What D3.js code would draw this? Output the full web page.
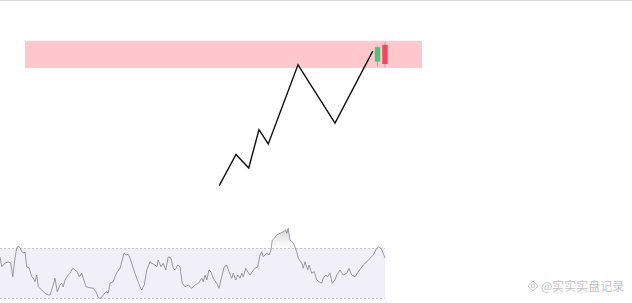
<!DOCTYPE html>
<html>
<head>
<meta charset="utf-8">
<script src="https://cdn.jsdelivr.net/npm/d3@7"></script>
<style>
  html, body { margin: 0; padding: 0; background: #fff; }
  #chart { width: 632px; height: 303px; }
</style>
</head>
<body>
<div id="chart"></div>
<script>
// Price swings (bar index, price)
const swingBars   = [87.7, 94.4, 99.5, 103.6, 107.3, 119.2, 134, 149.1];
const swingPrices = [1818, 1857, 1840, 1888, 1870, 1969, 1896, 1986];

// Last two candles
const candleBars  = [151, 154];
const candleOpen  = [1973, 1994];
const candleClose = [1991, 1970];
const candleHigh  = [1993, 1998];
const candleLow   = [1967, 1966];

// Resistance zone
const zoneBars   = [10, 168.8];
const zonePrices = [1965, 1999];

// Oscillator (bar index, value) and its bands
const oscBars = [0,0.7,2,3.3,4.3,5.1,6,6.7,7.3,8,8.7,9.6,10,10.7,11.7,12.7,13.3,14,14.7,15.3,16.7,18,19.3,20,21.3,22,22.9,24,24.7,25.3,26,27.3,28,29.1,30,30.9,31.7,32.7,33.3,34.4,36,37.3,38.4,39.3,40.3,41.3,42.4,43.3,44,45.3,46,46.9,48,48.7,49.6,50.4,51.3,52,53.3,54.7,56,56.7,57.7,58.7,60,60.7,62,62.7,63.3,64.4,65.3,66.3,67.3,68.4,69.3,70,71.1,72,72.9,74,75.3,76.7,78,79.3,80.7,81.3,82,82.7,83.6,84.4,85.3,86.7,87.6,88.7,89.7,90.7,91.6,92.7,93.3,94.3,95.1,96,96.7,97.3,98.3,99.1,100,100.9,102,103.1,104,104.7,105.3,106.7,107.6,108.4,108.9,109.7,110.7,112,113.3,114.3,114.7,115.3,116,116.9,117.7,118.7,119.3,120.7,121.3,122,123.1,123.6,124.7,125.7,126.7,127.6,128.7,129.3,130.3,131.1,132,132.9,134,134.7,136,137.3,138.7,139.6,140.7,142,143.3,144.4,145.3,146.7,148,149.3,150.3,151.3,152.4,153.3,154];
const oscValues = [62.8,55,58,58.8,58,47,62,69.8,71.6,70.2,67,66,66.8,55,53.8,47,46,43,48.4,39,36.4,33.8,32.4,32.4,40.4,45.8,35,40.4,41.8,39,44.4,48.4,49.8,53.8,52.4,51,47,49.8,45.8,39,38.2,37.8,35,30.2,29.8,32.4,35,33.8,41.8,43,47,51,53.8,59,65.8,64.4,65,61.8,53.8,45.8,39,36.4,40.4,52.4,59,57.8,56.4,55,60.4,55,57.8,52.4,63,61.8,53.8,52.4,56.4,55,41.8,39,40.4,37.8,40.4,41.8,45.8,43,48.4,44.4,52.4,51,45.8,41.8,37.8,47,55,56.4,51,45.8,49.8,44.4,48.4,45.8,49.8,47,53.8,51,48.4,51,53.8,55,64.4,67,63,65.8,64.4,68.4,76.4,77.8,80.4,81.8,83,84.4,81.8,85.8,76.4,75,72.4,67,61.8,57.8,53.8,59,52.4,56.4,49.8,51,44.4,43,41.8,45.8,48.4,47,49.8,41.8,44.4,48.4,52.4,48.4,49.8,53.8,48.4,47,51,53.8,56.4,59,61.8,64.4,68.4,71,69.8,65.8,61.8];
const oscBands = [30, 70];

const watermark = "@实实实盘记录";

const width = 632, height = 303;

const svg = d3.select("#chart").append("svg")
    .attr("width", width)
    .attr("height", height)
    .style("font-family", "'Noto Sans CJK SC', 'Noto Sans', sans-serif");

// Scales
const x = d3.scaleLinear().domain([0, 160]).range([0, 400]);
const yPrice = d3.scaleLinear().domain([1800, 2000]).range([200, 40]);
const yOsc = d3.scaleLinear().domain([30, 70]).range([298, 248]);

const defs = svg.append("defs");

// top border
svg.append("line")
    .attr("x1", 0).attr("x2", width)
    .attr("y1", 0.5).attr("y2", 0.5)
    .attr("stroke", "#d9d9d9");

// Resistance zone
svg.append("rect")
    .attr("x", x(zoneBars[0]))
    .attr("y", yPrice(zonePrices[1]))
    .attr("width", x(zoneBars[1]) - x(zoneBars[0]))
    .attr("height", yPrice(zonePrices[0]) - yPrice(zonePrices[1]))
    .attr("fill", "#ffc8cc");

// Zigzag
const swings = swingBars.map((b, i) => ({ b, p: swingPrices[i] }));
svg.append("path")
    .datum(swings)
    .attr("fill", "none")
    .attr("stroke", "#111")
    .attr("stroke-width", 1.4)
    .attr("d", d3.line().x(d => x(d.b)).y(d => yPrice(d.p)));

// Candles
const candles = candleBars.map((b, i) => ({
    b, o: candleOpen[i], c: candleClose[i], h: candleHigh[i], l: candleLow[i]
}));
const cg = svg.append("g").selectAll("g").data(candles).join("g");
cg.append("line")
    .attr("x1", d => x(d.b)).attr("x2", d => x(d.b))
    .attr("y1", d => yPrice(d.h)).attr("y2", d => yPrice(d.l))
    .attr("stroke", "#a8a8a8");
cg.append("rect")
    .attr("x", d => x(d.b) - 2.7)
    .attr("width", 5.4)
    .attr("y", d => yPrice(Math.max(d.o, d.c)))
    .attr("height", d => Math.abs(yPrice(d.o) - yPrice(d.c)))
    .attr("fill", d => d.c >= d.o ? "#3fcc72" : "#f2485c");

// Oscillator panel
const osc = oscBars.map((b, i) => ({ b, v: oscValues[i] }));
const oscEnd = d3.max(oscBars);

svg.append("rect")
    .attr("x", x(0))
    .attr("y", yOsc(oscBands[1]))
    .attr("width", x(oscEnd) - x(0))
    .attr("height", yOsc(oscBands[0]) - yOsc(oscBands[1]))
    .attr("fill", "#f1eff8");

svg.selectAll(".band")
    .data(oscBands)
    .join("line")
    .attr("class", "band")
    .attr("x1", x(0)).attr("x2", x(oscEnd))
    .attr("y1", d => yOsc(d) + 0.5).attr("y2", d => yOsc(d) + 0.5)
    .attr("stroke", "#c9c7d2")
    .attr("stroke-dasharray", "2,2");

// overbought fill
const grad = defs.append("linearGradient")
    .attr("id", "obGrad")
    .attr("gradientUnits", "userSpaceOnUse")
    .attr("x1", 0).attr("x2", 0)
    .attr("y1", yOsc(86)).attr("y2", yOsc(oscBands[1]));
grad.append("stop").attr("offset", "0%").attr("stop-color", "#a0a0a0").attr("stop-opacity", 0.55);
grad.append("stop").attr("offset", "100%").attr("stop-color", "#e8e8e8").attr("stop-opacity", 0.15);

defs.append("clipPath").attr("id", "obClip")
    .append("rect")
    .attr("x", 0).attr("y", 0)
    .attr("width", width)
    .attr("height", yOsc(oscBands[1]));

svg.append("path")
    .datum(osc)
    .attr("clip-path", "url(#obClip)")
    .attr("fill", "url(#obGrad)")
    .attr("d", d3.area()
        .x(d => x(d.b))
        .y0(yOsc(oscBands[1]))
        .y1(d => yOsc(d.v)));

svg.append("path")
    .datum(osc)
    .attr("fill", "none")
    .attr("stroke", "#85838f")
    .attr("stroke-width", 0.8)
    .attr("d", d3.line().x(d => x(d.b)).y(d => yOsc(d.v)));

// Watermark
const wm = svg.append("g").attr("opacity", 0.5);
wm.append("path")
    .attr("d", "M533,281 L538,286 L533,291 L528,286 Z")
    .attr("fill", "none")
    .attr("stroke", "#999")
    .attr("stroke-width", 1);
wm.append("circle")
    .attr("cx", 533).attr("cy", 286).attr("r", 1.8)
    .attr("fill", "none").attr("stroke", "#999");
wm.append("text")
    .attr("x", 541)
    .attr("y", 291)
    .attr("fill", "#888")
    .style("font-size", "12px")
    .text(watermark);
</script>
</body>
</html>
